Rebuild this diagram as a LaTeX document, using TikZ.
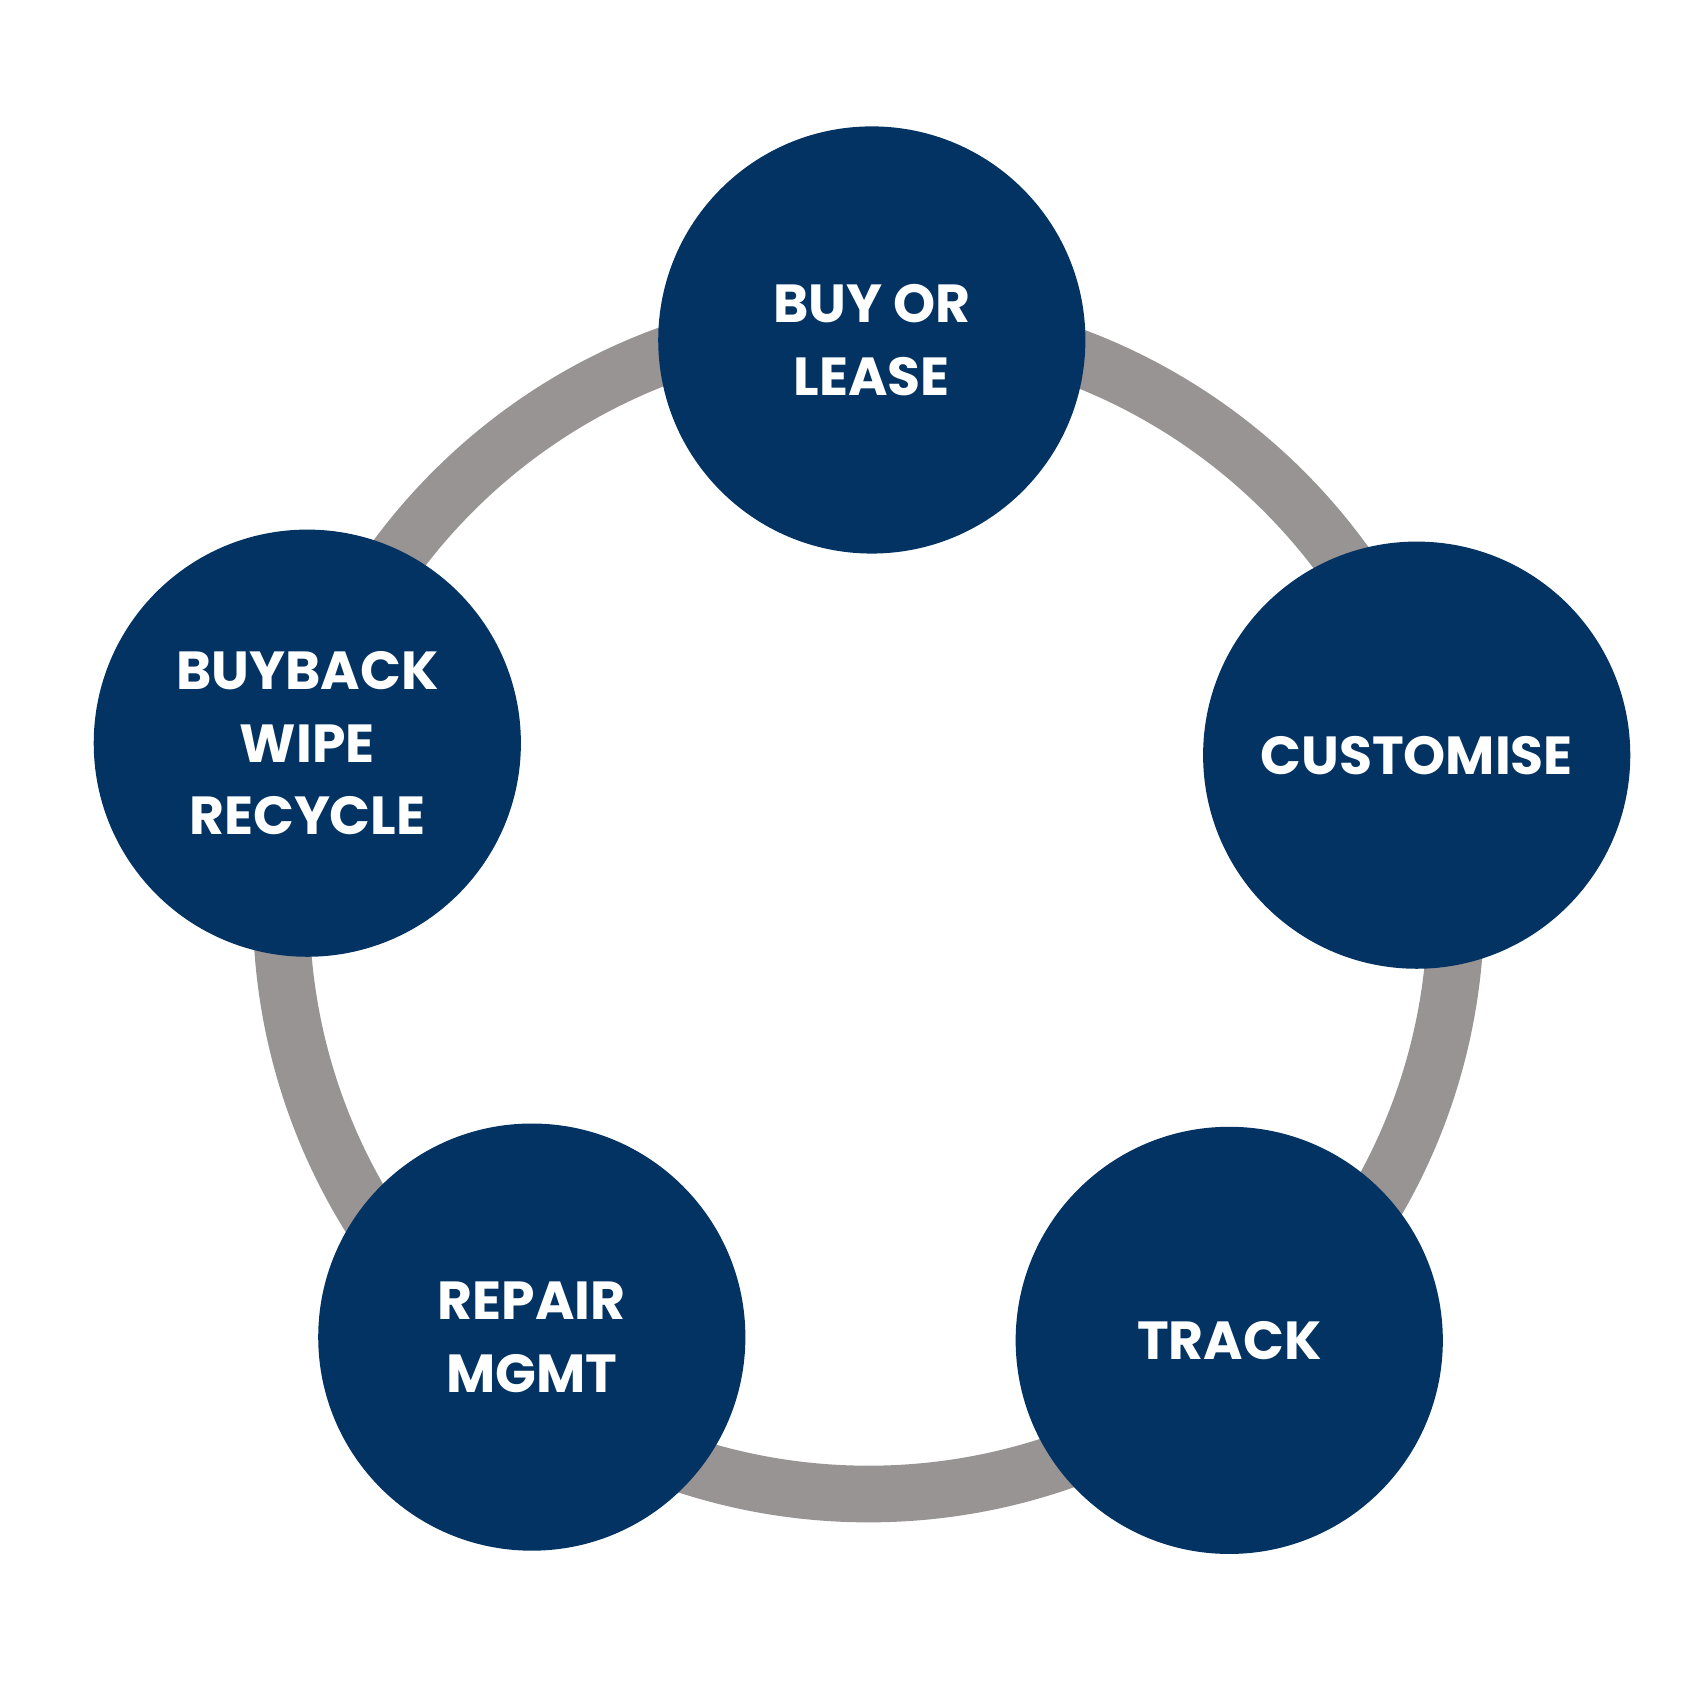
\documentclass[tikz,border=0pt]{standalone}
\usepackage{fontspec}
\setmainfont{Poppins}
\usetikzlibrary{positioning}
\definecolor{navy}{HTML}{023363}
\definecolor{ringgray}{HTML}{999494}
\begin{document}
\begin{tikzpicture}
    \tikzstyle{stage}=[circle,fill=navy,minimum size=3.92cm,inner sep=0pt,text=white,font=\fontsize{14}{19}\selectfont\bfseries,align=center]
    \tikzstyle{ring}=[draw=ringgray,line width=0.52cm]

    \useasboundingbox (0,0) rectangle (15.6,15.6);

    \coordinate (hub) at (7.97,7.28) ;
    \draw[ring] (hub) circle (5.39cm) ;

    \node[stage] (buy) at (8.00,12.48) {BUY OR\\LEASE} ;
    \node[stage] (custom) at (13.00,8.67) {CUSTOMISE} ;
    \node[stage] (track) at (11.28,3.30) {TRACK} ;
    \node[stage] (repair) at (4.88,3.33) {REPAIR\\MGMT} ;
    \node[stage] (buyback) at (2.82,8.78) {BUYBACK\\WIPE\\RECYCLE} ;
\end{tikzpicture}
\end{document}
